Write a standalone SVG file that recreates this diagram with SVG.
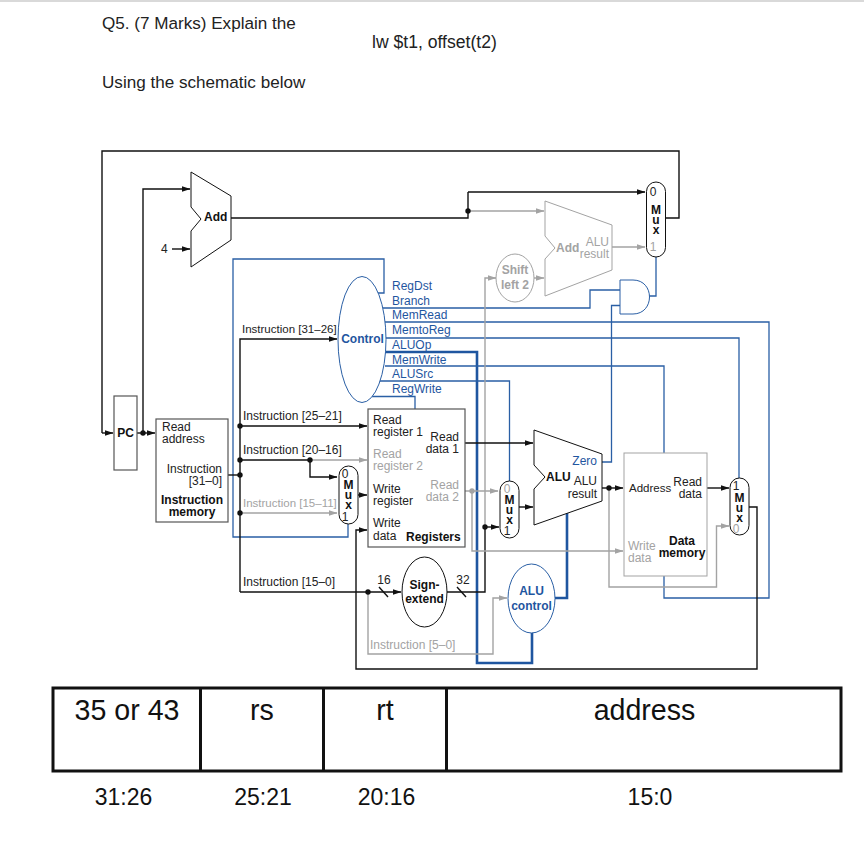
<svg xmlns="http://www.w3.org/2000/svg" width="864" height="844" viewBox="0 0 864 844">
<style>
text{font-family:"Liberation Sans",Arial,sans-serif;font-size:12px;fill:#222}
.doc{font-size:17.100px;fill:#222}
.tb{font-size:28.600px;fill:#111;text-anchor:middle}
.tl{font-size:23px;fill:#111;text-anchor:middle}
.sm{font-size:11.500px}
.b{font-weight:bold;fill:#111}
.g{fill:#a3a3a3}
.gb{font-weight:bold;fill:#a3a3a3}
.bl{fill:#1f56a0}
.blb{font-weight:bold;fill:#1f56a0}
.m{text-anchor:middle}
.e{text-anchor:end}
.n{font-weight:normal;fill:#222}
.w{fill:none;stroke:#111;stroke-width:1.4}
.wg{fill:none;stroke:#a3a3a3;stroke-width:1.4}
.wb{fill:none;stroke:#2a5fa5;stroke-width:1.3}
.wB{fill:none;stroke:#1f56a0;stroke-width:2.6}
.box{fill:#fff;stroke:#555;stroke-width:1.2}
.ol{fill:#fff;stroke:#111;stroke-width:1}
.olb{fill:#fff;stroke:#2a5fa5;stroke-width:1}
.olg{fill:#fff;stroke:#a3a3a3;stroke-width:1}
.ar{marker-end:url(#a)}
.arg{marker-end:url(#ag)}
</style>
<defs>
<marker id="a" markerUnits="userSpaceOnUse" markerWidth="9" markerHeight="8" refX="8.500" refY="3" orient="auto" viewBox="0 0 9 6"><path d="M0 0L9 3L0 6z" fill="#111"/></marker>
<marker id="ag" markerUnits="userSpaceOnUse" markerWidth="9" markerHeight="8" refX="8.500" refY="3" orient="auto" viewBox="0 0 9 6"><path d="M0 0L9 3L0 6z" fill="#a3a3a3"/></marker>
</defs>
<rect width="864" height="844" fill="#fff"/>
<line x1="0" y1="1" x2="864" y2="1" stroke="#ccc" stroke-width="1.5"/>
<text class="doc" x="102" y="29">Q5. (7 Marks) Explain the</text>
<text class="doc" style="font-size:17.600px" x="372" y="48">lw $t1, offset(t2)</text>
<text class="doc" x="102" y="88">Using the schematic below</text>

<g id="connectors">
<path class="wB" d="M555 598H567V513"/>
<path class="wB" d="M532 632V663H477V352H385"/>
<path class="wb" d="M377 293H384V259H233V537H348V524"/>
<path class="wb" d="M383 308H590V290H620"/>
<path class="wb" d="M385 322H769V598H664V576"/>
<path class="wb" d="M386 338H739V478"/>
<path class="wb" d="M385 366H664V453"/>
<path class="wb" d="M378 381H509.500V481"/>
<path class="wb" d="M372 396.500H415V409"/>
<path class="wb" d="M602 462H611.500V305.500H620"/>
<path class="wb" d="M649 296H656V257"/>
<path class="w ar" d="M143 433V189H190"/>
<path class="w" d="M666 218H679V151H102V433"/>
<path class="w ar" d="M102 433H113"/>
<path class="w ar" d="M137 433H155"/>
<path class="w ar" d="M172 249H190"/>
<path class="w" d="M231 218H468V192"/>
<path class="w ar" d="M468 192H645"/>
<path class="wg arg" d="M468 211H544"/>
<path class="wg arg" d="M612 247H645"/>
<path class="wg arg" d="M534 278H544"/>
<path class="wg arg" d="M485 527V278H496"/>
<path class="w" d="M228 475H240"/>
<path class="w ar" d="M240 592V339H337"/>
<path class="w ar" d="M240 426H367"/>
<path class="w" d="M240 460H310"/>
<path class="wg arg" d="M310 460H367"/>
<path class="w ar" d="M310 460V477H337"/>
<path class="wg arg" d="M240 513H337"/>
<path class="w ar" d="M358 495H367"/>
<path class="w" d="M240 592H368"/>
<path class="w ar" d="M368 592H401"/>
<path class="w" d="M379 587L388 597M457 587L466 597"/>
<path class="wg arg" d="M368 592V654H493V598H507"/>
<path class="w" d="M447 592H485V527"/>
<path class="w ar" d="M485 527H499"/>
<path class="w ar" d="M465 443H533"/>
<path class="wg arg" d="M465 491H498"/>
<path class="wg arg" d="M472 491V551H623"/>
<path class="w ar" d="M519 507H533"/>
<path class="w ar" d="M602 488H623"/>
<path class="wg arg" d="M609 488V587H716.500V526H729"/>
<path class="w ar" d="M707 488H729"/>
<path class="w ar" d="M749 507H757V669H356V530H367"/>
<g fill="#111"><circle cx="143" cy="433" r="2.700"/><circle cx="468" cy="211" r="2.700"/><circle cx="240" cy="426" r="2.700"/><circle cx="240" cy="460" r="2.700"/><circle cx="240" cy="475" r="2.700"/><circle cx="240" cy="513" r="2.700"/><circle cx="310" cy="460" r="2.700"/><circle cx="368" cy="592" r="2.700"/><circle cx="485" cy="527" r="2.700"/><circle cx="609" cy="488" r="2.700"/></g>
<circle cx="472" cy="491" r="2.700" fill="#a3a3a3"/>
</g>

<g id="add1"><path class="ol" d="M191 172L231 196V240L191 267V231L201 219L191 207z"/><text class="b" x="204" y="221">Add</text></g>
<g id="pc"><rect class="box" x="114" y="396" width="23" height="74"/><text class="b m" x="125.500" y="437">PC</text></g>
<g id="imem"><rect class="box" x="156" y="419" width="72" height="103"/>
<text><tspan x="162" y="431">Read</tspan><tspan x="162" y="443">address</tspan></text>
<text class="e"><tspan x="222" y="473">Instruction</tspan><tspan x="222" y="485">[31–0]</tspan></text>
<text class="b m"><tspan x="192" y="504">Instruction</tspan><tspan x="192" y="516">memory</tspan></text></g>
<g id="control"><ellipse class="olb" cx="362" cy="339.500" rx="24" ry="63"/><text class="blb m" x="362.500" y="343">Control</text></g>
<g id="mux-reg"><rect class="ol" x="339" y="466" width="19" height="58" rx="9.500"/>
<text class="b m"><tspan class="n" x="345" y="478">0</tspan><tspan x="348.500" y="489">M</tspan><tspan x="348.500" y="499">u</tspan><tspan x="348.500" y="509">x</tspan><tspan class="n" x="345" y="521">1</tspan></text></g>
<g id="registers"><rect class="box" x="368" y="409" width="97" height="138"/>
<text><tspan x="373" y="424">Read</tspan><tspan x="373" y="436">register 1</tspan></text>
<text class="g"><tspan x="373" y="458">Read</tspan><tspan x="373" y="470">register 2</tspan></text>
<text><tspan x="373" y="493">Write</tspan><tspan x="373" y="505">register</tspan></text>
<text><tspan x="373" y="527">Write</tspan><tspan x="373" y="540">data</tspan></text>
<text class="e"><tspan x="459" y="441">Read</tspan><tspan x="459" y="453">data 1</tspan></text>
<text class="g e"><tspan x="459" y="489">Read</tspan><tspan x="459" y="501">data 2</tspan></text>
<text class="b" x="406" y="541">Registers</text></g>
<g id="sign-extend"><ellipse class="ol" cx="424.500" cy="592" rx="22.500" ry="35"/><text class="b m"><tspan x="424.500" y="589">Sign-</tspan><tspan x="424.500" y="603">extend</tspan></text></g>
<g id="alu-control"><ellipse class="olb" cx="531.500" cy="598.500" rx="23.500" ry="34.500"/><text class="blb m"><tspan x="531.500" y="595">ALU</tspan><tspan x="531.500" y="610">control</tspan></text></g>
<g id="mux-alu"><rect class="ol" x="500" y="481" width="19" height="57" rx="9.500"/>
<text class="b m"><tspan class="gb" style="font-weight:normal" x="507" y="493">0</tspan><tspan x="509.500" y="504">M</tspan><tspan x="509.500" y="514">u</tspan><tspan x="509.500" y="524">x</tspan><tspan class="n" x="507" y="535">1</tspan></text></g>
<g id="alu"><path class="ol" d="M534 430L602 454V501L534 525V489L545 477L534 465z"/>
<text class="b" x="546" y="481">ALU</text><text class="bl e" x="597" y="465">Zero</text><text class="e"><tspan x="597" y="485">ALU</tspan><tspan x="597" y="498">result</tspan></text></g>
<g id="data-memory"><rect class="olg" x="624" y="453" width="83" height="123"/>
<text class="sm" x="629" y="492">Address</text><text class="e"><tspan x="702" y="486">Read</tspan><tspan x="702" y="498">data</tspan></text>
<text class="g"><tspan x="628" y="550">Write</tspan><tspan x="628" y="562">data</tspan></text>
<text class="b m"><tspan x="682" y="545">Data</tspan><tspan x="682" y="557">memory</tspan></text></g>
<g id="mux-mem"><rect class="ol" x="730" y="478" width="19" height="57" rx="9.500"/>
<text class="b m"><tspan class="n" x="736" y="490">1</tspan><tspan x="739.500" y="502">M</tspan><tspan x="739.500" y="512">u</tspan><tspan x="739.500" y="522">x</tspan><tspan class="gb" style="font-weight:normal" x="736" y="533">0</tspan></text></g>
<g id="shift"><ellipse class="olg" cx="515" cy="278" rx="19" ry="24"/><text class="gb m"><tspan x="515" y="274">Shift</tspan><tspan x="515" y="289">left 2</tspan></text></g>
<g id="add2"><path class="olg" d="M545 201L612 225V270L545 296V259L555 248L545 236z"/>
<text class="gb" x="556" y="252">Add</text><text class="g e"><tspan x="609" y="246">ALU</tspan><tspan x="609" y="258">result</tspan></text></g>
<g id="and"><path class="olb" d="M620 280H633C655 280 655 314 633 314H620z"/></g>
<g id="mux-pc"><rect class="ol" x="646.500" y="182" width="19" height="75" rx="9.500"/>
<text class="b m"><tspan class="n" x="653" y="196">0</tspan><tspan x="656" y="214">M</tspan><tspan x="656" y="224">u</tspan><tspan x="656" y="234">x</tspan><tspan class="gb" style="font-weight:normal" x="653" y="251">1</tspan></text></g>

<g id="labels">
<text class="sm" x="242" y="333">Instruction [31–26]</text>
<text x="243" y="420">Instruction [25–21]</text>
<text x="243" y="454">Instruction [20–16]</text>
<text class="g sm" x="243" y="507">Instruction [15–11]</text>
<text x="243" y="586">Instruction [15–0]</text>
<text class="g" x="370" y="649">Instruction [5–0]</text>
<text x="161" y="253">4</text>
<text class="m" x="384" y="584">16</text>
<text class="m" x="463" y="584">32</text>
<text class="bl" x="392" y="290">RegDst</text>
<text class="bl" x="392" y="305">Branch</text>
<text class="bl" x="392" y="319">MemRead</text>
<text class="bl" x="392" y="334">MemtoReg</text>
<text class="bl" x="392" y="349">ALUOp</text>
<text class="bl" x="392" y="364">MemWrite</text>
<text class="bl" x="392" y="378">ALUSrc</text>
<text class="bl" x="392" y="393">RegWrite</text>
</g>

<g id="table">
<rect x="53" y="688" width="788" height="83" fill="none" stroke="#111" stroke-width="3"/>
<path d="M200.500 688V771M323.500 688V771M446.500 688V771" stroke="#111" stroke-width="3"/>
<text class="tb" x="127" y="720">35 or 43</text><text class="tb" x="262" y="720">rs</text><text class="tb" x="385" y="720">rt</text><text class="tb" x="644.500" y="720">address</text>
<text class="tl" x="123.500" y="805">31:26</text><text class="tl" x="263" y="805">25:21</text><text class="tl" x="386.500" y="805">20:16</text><text class="tl" x="650" y="805">15:0</text>
</g>
</svg>
